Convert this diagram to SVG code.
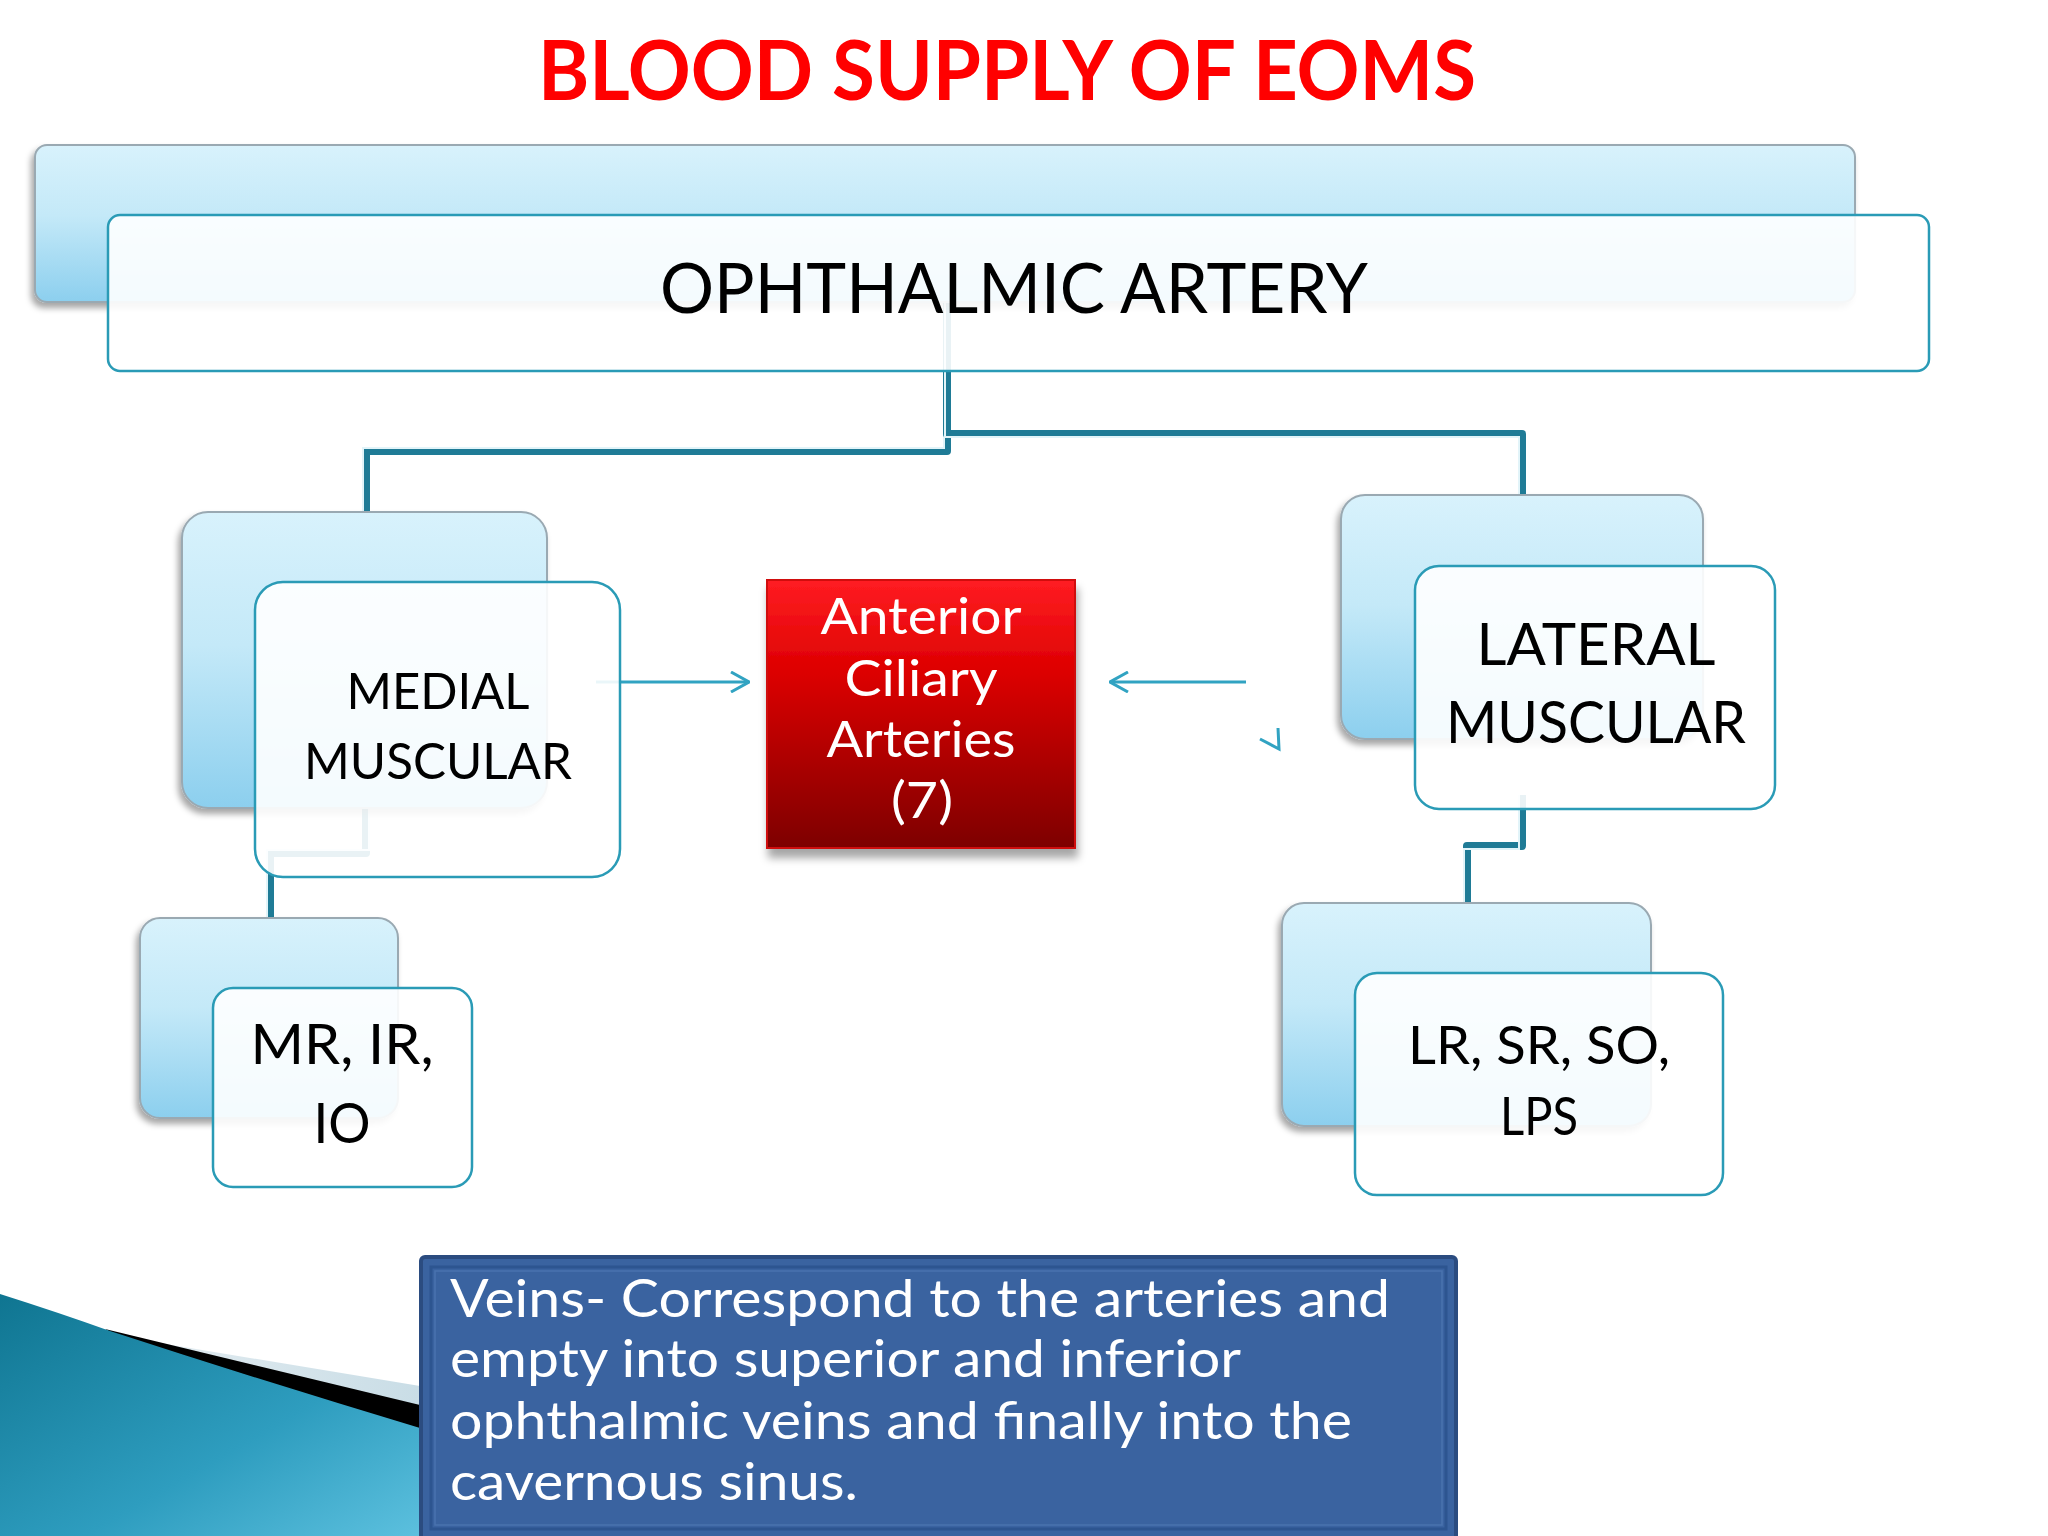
<svg xmlns="http://www.w3.org/2000/svg" width="2048" height="1536" viewBox="0 0 2048 1536">
<defs>
  <linearGradient id="gBack" x1="0" y1="0" x2="0" y2="1">
    <stop offset="0" stop-color="#d8f2fc"/>
    <stop offset="0.45" stop-color="#c4e9f8"/>
    <stop offset="1" stop-color="#8ccfee"/>
  </linearGradient>
  <linearGradient id="gRed" x1="0" y1="0" x2="0" y2="1">
    <stop offset="0" stop-color="#ff1c22"/>
    <stop offset="0.35" stop-color="#dc0000"/>
    <stop offset="1" stop-color="#7d0000"/>
  </linearGradient>
  <linearGradient id="gTeal" x1="0" y1="0" x2="1" y2="1">
    <stop offset="0" stop-color="#0f7591"/>
    <stop offset="0.6" stop-color="#2e9dbf"/>
    <stop offset="1" stop-color="#5cc0de"/>
  </linearGradient>
  <linearGradient id="gSliver" x1="0" y1="0" x2="1" y2="0">
    <stop offset="0" stop-color="#e6eef2"/>
    <stop offset="1" stop-color="#c9dde6"/>
  </linearGradient>
  <filter id="shBack" x="-10%" y="-10%" width="125%" height="130%">
    <feDropShadow dx="-3" dy="5" stdDeviation="3" flood-color="#000" flood-opacity="0.35"/>
  </filter>
  <filter id="shRed" x="-10%" y="-10%" width="125%" height="130%">
    <feDropShadow dx="2" dy="9" stdDeviation="4" flood-color="#000" flood-opacity="0.35"/>
  </filter>
  <marker id="arr" viewBox="0 0 20 22" refX="19" refY="11" markerWidth="20" markerHeight="22" markerUnits="userSpaceOnUse" orient="auto">
    <path d="M1,1 L19,11 L1,21" fill="none" stroke="#31a3c2" stroke-width="3"/>
  </marker>
  <style>
    .back{fill:url(#gBack);stroke:#9aa9b2;stroke-width:2;filter:url(#shBack)}
    .front{fill:#ffffff;fill-opacity:0.9;stroke:#2a9bb6;stroke-width:2.5}
    .conn{fill:none;stroke:#1f7b96;stroke-width:8;stroke-linejoin:round}
    .connHi{fill:none;stroke:#e2f4f9;stroke-width:2}
    .arrow{fill:none;stroke:#31a3c2;stroke-width:3}
    .lbl{font-family:Lato,"Liberation Sans",sans-serif;fill:#000;text-anchor:middle}
    .wlbl{font-family:Lato,"Liberation Sans",sans-serif;fill:#fff;text-anchor:middle}
    .body{font-family:Lato,"Liberation Sans",sans-serif;fill:#fff;font-size:52px}
  </style>
</defs>

<rect x="0" y="0" width="2048" height="1536" fill="#ffffff"/>

<!-- decorative swoosh -->
<g id="swoosh">
  <path d="M160,1343 L420,1386 L420,1408 L110,1331 Z" fill="url(#gSliver)"/>
  <path d="M105,1329 L420,1405 L420,1430 Q240,1374 110,1332 Z" fill="#000"/>
  <path d="M0,1294 Q60,1313 110,1331 Q260,1380 420,1428 L420,1536 L0,1536 Z" fill="url(#gTeal)"/>
</g>

<text id="title" x="1007" y="100" font-family="Lato,'Liberation Sans',sans-serif" font-weight="bold" font-size="82" fill="#ff0000" text-anchor="middle" textLength="938" lengthAdjust="spacingAndGlyphs">BLOOD SUPPLY OF EOMS</text>

<!-- connectors -->
<g id="connectors">
  <path class="conn" d="M947,290 V451 H366 V515"/>
  <path class="connHi" d="M944,300 V448 H363 V512"/>
  <path class="conn" d="M947,290 V434 H1522 V500"/>
  <path class="connHi" d="M945,300 V437 H1519 V497"/>
  <path class="conn" d="M366,795 V853 H270 V921"/>
  <path class="connHi" d="M369,795 V850 H267 V918"/>
  <path class="conn" d="M1522,795 V846 H1467 V906"/>
  <path class="connHi" d="M1519,795 V849 H1464 V903"/>
  <path class="arrow" d="M596,682 H749" marker-end="url(#arr)"/>
  <path class="arrow" d="M1246,682 H1110" marker-end="url(#arr)"/>
  <polyline class="arrow" points="1260,739 1279,749 1278,728"/>
</g>

<g id="node-ophthalmic">
  <rect class="back" x="35" y="145" width="1820" height="157" rx="12"/>
  <rect class="front" x="108" y="215" width="1821" height="156" rx="12"/>
  <text class="lbl" x="1014" y="313" font-size="70" textLength="708" lengthAdjust="spacingAndGlyphs">OPHTHALMIC ARTERY</text>
</g>

<g id="node-medial">
  <rect class="back" x="182" y="512" width="365" height="296" rx="26"/>
  <rect class="front" x="255" y="582" width="365" height="295" rx="28"/>
  <text class="lbl" x="438" y="709" font-size="50" textLength="183" lengthAdjust="spacingAndGlyphs">MEDIAL</text>
  <text class="lbl" x="438" y="779" font-size="50" textLength="268" lengthAdjust="spacingAndGlyphs">MUSCULAR</text>
</g>

<g id="node-anterior-ciliary">
  <rect x="767" y="580" width="308" height="268" fill="url(#gRed)" stroke="#d01010" stroke-width="2" filter="url(#shRed)"/>
  <text class="wlbl" x="921" y="634" font-size="50" textLength="201" lengthAdjust="spacingAndGlyphs">Anterior</text>
  <text class="wlbl" x="921" y="696" font-size="50" textLength="153" lengthAdjust="spacingAndGlyphs">Ciliary</text>
  <text class="wlbl" x="921" y="757" font-size="50" textLength="189" lengthAdjust="spacingAndGlyphs">Arteries</text>
  <text class="wlbl" x="922" y="818" font-size="50" textLength="62" lengthAdjust="spacingAndGlyphs">(7)</text>
</g>

<g id="node-lateral">
  <rect class="back" x="1341" y="495" width="362" height="244" rx="24"/>
  <rect class="front" x="1415" y="566" width="360" height="243" rx="24"/>
  <text class="lbl" x="1596" y="665" font-size="58" textLength="239" lengthAdjust="spacingAndGlyphs">LATERAL</text>
  <text class="lbl" x="1596" y="743" font-size="58" textLength="300" lengthAdjust="spacingAndGlyphs">MUSCULAR</text>
</g>

<g id="node-mr-ir-io">
  <rect class="back" x="140" y="918" width="258" height="200" rx="20"/>
  <rect class="front" x="213" y="988" width="259" height="199" rx="20"/>
  <text class="lbl" x="342" y="1064" font-size="56" textLength="183" lengthAdjust="spacingAndGlyphs">MR, IR,</text>
  <text class="lbl" x="342" y="1143" font-size="56" textLength="57" lengthAdjust="spacingAndGlyphs">IO</text>
</g>

<g id="node-lr-sr-so-lps">
  <rect class="back" x="1282" y="903" width="369" height="223" rx="22"/>
  <rect class="front" x="1355" y="973" width="368" height="222" rx="22"/>
  <text class="lbl" x="1539" y="1064" font-size="52" textLength="262" lengthAdjust="spacingAndGlyphs">LR, SR, SO,</text>
  <text class="lbl" x="1539" y="1135" font-size="52" textLength="78" lengthAdjust="spacingAndGlyphs">LPS</text>
</g>

<g id="veins-note">
  <rect x="421" y="1257" width="1035" height="290" rx="4" fill="#3a63a0" stroke="#2b4c80" stroke-width="4"/>
  <rect x="431" y="1267" width="1015" height="262" fill="none" stroke="#2d5590" stroke-width="3"/>
  <rect x="435" y="1271" width="1007" height="254" fill="none" stroke="#4a73ae" stroke-width="1.5"/>
  <text class="body" x="450" y="1317" textLength="940" lengthAdjust="spacingAndGlyphs">Veins- Correspond to the arteries and</text>
  <text class="body" x="450" y="1377" textLength="791" lengthAdjust="spacingAndGlyphs">empty into superior and inferior</text>
  <text class="body" x="450" y="1439" textLength="902" lengthAdjust="spacingAndGlyphs">ophthalmic veins and finally into the</text>
  <text class="body" x="450" y="1500" textLength="408" lengthAdjust="spacingAndGlyphs">cavernous sinus.</text>
</g>
</svg>
